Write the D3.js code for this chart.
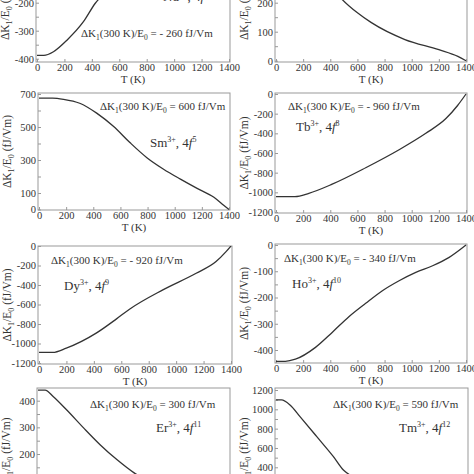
<!DOCTYPE html>
<html><head><meta charset="utf-8">
<script src="https://cdn.jsdelivr.net/npm/d3@7"></script>
<style>body{margin:0;background:#fff}svg{display:block;font-family:"Liberation Serif","DejaVu Serif",serif}</style>
</head><body><svg id="c" width="474" height="474"></svg>
<script>
// ---- data (T in K, value in fJ/Vm) ----
const ndT = [0,50,120,220,340,425,600,900,1200,1400];
const ndK = [-388,-388,-375,-333,-267,-202,-130,-60,-20,0];
const pmT = [0,200,300,400,490,600,700,950,1200,1340,1400];
const pmK = [345,330,300,260,210,165,132,73,38,15,0];
const smT = [0,100,180,300,425,548,672,795,918,1042,1165,1289,1363,1400];
const smK = [675,675,668,644,584,504,404,314,244,184,128,74,24,0];
const tbT = [0,140,242,414,661,907,1104,1252,1338,1400];
const tbK = [-1043,-1043,-1010,-917,-750,-567,-400,-250,-117,0];
const dyT = [0,100,199,417,563,660,903,1146,1291,1364,1400];
const dyK = [-1092,-1092,-1048,-894,-750,-648,-450,-280,-160,-58,0];
const hoT = [0,69,143,291,414,537,661,784,907,1030,1154,1276,1400];
const hoK = [-443,-443,-435,-390,-333,-273,-222,-174,-136,-104,-79,-47,0];
const erT = [0,52,113,211,334,457,580,702,900,1100,1400];
const erK = [440,440,415,365,298,234,178,130,80,45,0];
const tmT = [0,40,103,176,299,421,494,700,1000,1400];
const tmK = [1097,1097,1045,924,717,510,372,230,110,0];
const xTicks = [0,200,400,600,800,1000,1200,1400];
const ndTicks = [-400,-350,-300,-250,-200,-150], ndLab = [-400,-300,-200];
const pmTicks = [0,50,100,150,200,250], pmLab = [0,100,200];
const smTicks = [0,100,200,300,400,500,600,700], smLab = [0,100,300,500,700];
const tbTicks = [-1200,-1000,-800,-600,-400,-200,0], tbLab = tbTicks;
const dyTicks = [-1200,-1000,-800,-600,-400,-200,0], dyLab = dyTicks;
const hoTicks = [-400,-350,-300,-250,-200,-150,-100,-50,0], hoLab = [-400,-300,-200,-100,0];
const erTicks = [100,150,200,250,300,350,400], erLab = [200,300,400];
const tmTicks = [400,500,600,700,800,900,1000,1100,1200], tmLab = [400,600,800,1000,1200];
const notes = ["- 260","","600","- 960","- 920","- 340","300","590"];
const ions = [["Nd","3"],null,["Sm","5"],["Tb","8"],["Dy","9"],["Ho","10"],["Er","11"],["Tm","12"]];

// ---- layout ----
const panels = [
 {T:ndT,K:ndK,ticks:ndTicks,lab:ndLab,x0:37,x1:229,top:-55,bot:62,v0:-400,p0:58.7,v1:-200,p1:2.7,note:[81,37],ion:[163,1]},
 {T:pmT,K:pmK,ticks:pmTicks,lab:pmLab,x0:276,x1:466,top:-55,bot:62,v0:0,p0:60.7,v1:200,p1:2.7,note:null,ion:null},
 {T:smT,K:smK,ticks:smTicks,lab:smLab,x0:39,x1:229,top:93,bot:210,v0:0,p0:209.5,v1:700,p1:94,note:[100,110],ion:[150,147]},
 {T:tbT,K:tbK,ticks:tbTicks,lab:tbLab,x0:276,x1:466,top:93,bot:213,v0:0,p0:94,v1:-1200,p1:212,note:[288,110],ion:[296,131]},
 {T:dyT,K:dyK,ticks:dyTicks,lab:dyLab,x0:39,x1:231,top:246,bot:364,v0:0,p0:246,v1:-1200,p1:363,note:[51,264],ion:[64,290]},
 {T:hoT,K:hoK,ticks:hoTicks,lab:hoLab,x0:276,x1:466,top:244,bot:363,v0:0,p0:245,v1:-400,p1:350,note:[284,262],ion:[292,288]},
 {T:erT,K:erK,ticks:erTicks,lab:erLab,x0:38,x1:229,top:388,bot:520,v0:400,p0:400.7,v1:200,p1:454,note:[90,408],ion:[156,432]},
 {T:tmT,K:tmK,ticks:tmTicks,lab:tmLab,x0:276,x1:467,top:388,bot:520,v0:1200,p0:390,v1:400,p1:467.3,note:[333,408],ion:[399,432]}
];
const svg = d3.select("#c");
const ink = "#333", frame = "#999";
panels.forEach((p,i)=>{
  const g = svg.append("g");
  const x = d3.scaleLinear().domain([0,1400]).range([p.x0,p.x1]);
  const y = d3.scaleLinear().domain([p.v0,p.v1]).range([p.p0,p.p1]);
  const L = p.x0-1, R = p.x1+1;
  g.append("rect").attr("x",L).attr("y",p.top).attr("width",R-L).attr("height",p.bot-p.top)
   .attr("fill","none").attr("stroke",frame).attr("stroke-width",1);
  const ya = g.append("g").attr("transform",`translate(${L},0)`)
   .call(d3.axisLeft(y).tickValues(p.ticks).tickSize(-3).tickPadding(2)
     .tickFormat(v=>p.lab.includes(v)?String(v):""));
  ya.select(".domain").remove();
  ya.selectAll("line").attr("stroke",frame);
  ya.selectAll("text").attr("font-size",10.5).attr("fill",ink).attr("font-family","Liberation Serif");
  const xa = g.append("g").attr("transform",`translate(0,${p.bot})`)
   .call(d3.axisBottom(x).tickValues(xTicks).tickSize(-3).tickPadding(2).tickFormat(v=>String(v)));
  xa.select(".domain").remove();
  xa.selectAll("line").attr("stroke",frame);
  xa.selectAll("text").attr("font-size",10.5).attr("fill",ink).attr("font-family","Liberation Serif");
  g.append("text").attr("x",(p.x0+p.x1)/2).attr("y",p.bot+21).attr("text-anchor","middle")
   .attr("font-size",11).attr("fill",ink).text("T (K)");
  const yt = g.append("text").attr("transform",`translate(${L-27},${(p.top+p.bot)/2}) rotate(-90)`)
   .attr("text-anchor","middle").attr("font-size",11.5).attr("fill",ink);
  yt.append("tspan").text("ΔK");
  yt.append("tspan").attr("font-size",8).attr("dy",3).text("1");
  yt.append("tspan").attr("dy",-3).text("/E");
  yt.append("tspan").attr("font-size",8).attr("dy",3).text("0");
  yt.append("tspan").attr("dy",-3).text(" (fJ/Vm)");
  const cid = "clip"+i;
  svg.append("clipPath").attr("id",cid).append("rect").attr("x",L).attr("y",p.top).attr("width",R-L).attr("height",p.bot-p.top);
  const line = d3.line().x((d,j)=>x(p.T[j])).y(d=>y(d)).curve(d3.curveMonotoneX);
  g.append("path").attr("clip-path",`url(#${cid})`).attr("d",line(p.K))
   .attr("fill","none").attr("stroke",ink).attr("stroke-width",1.3);
  if(p.note){
    const t = g.append("text").attr("x",p.note[0]).attr("y",p.note[1]).attr("font-size",11).attr("fill",ink);
    t.append("tspan").text("ΔK");
    t.append("tspan").attr("font-size",7.5).attr("dy",3).text("1");
    t.append("tspan").attr("dy",-3).text("(300 K)/E");
    t.append("tspan").attr("font-size",7.5).attr("dy",3).text("0");
    t.append("tspan").attr("dy",-3).text(" = "+notes[i]+" fJ/Vm");
  }
  if(p.ion){
    const t = g.append("text").attr("x",p.ion[0]).attr("y",p.ion[1]).attr("font-size",13).attr("fill",ink);
    t.append("tspan").text(ions[i][0]);
    t.append("tspan").attr("font-size",8).attr("dy",-5).text("3+");
    t.append("tspan").attr("dy",5).text(", 4");
    t.append("tspan").attr("font-style","italic").text("f");
    t.append("tspan").attr("font-size",8).attr("dy",-5).text(ions[i][1]);
  }
});
</script></body></html>
